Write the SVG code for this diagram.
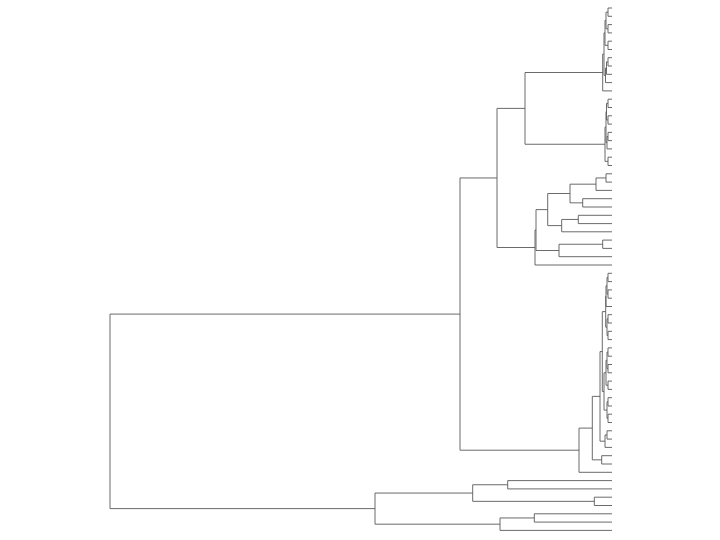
<svg xmlns="http://www.w3.org/2000/svg" width="720" height="540" viewBox="0 0 720 540">
<style>
.l{fill:none;stroke:#5a5a5a;stroke-width:0.9}
</style>
<rect width="720" height="540" fill="#fff"/>
<g id="connectors" class="l">
<g id="clusterA1">
<path d="M612 8 H608 V16.3 H612"/>
<path d="M612 24.6 H608 V32.9 H612"/>
<path d="M608 12.15 H606 V28.75 H608"/>
<path d="M612 41.2 H608 V49.5 H612"/>
<path d="M606 20.45 H605 V45.35 H608"/>
<path d="M612 57.7 H608 V66 H612"/>
<path d="M608 61.85 H606.5 V74.3 H612"/>
<path d="M606.5 68.08 H605.5 V82.6 H612"/>
<path d="M605 32.9 H604 V75.34 H605.5"/>
<path d="M604 54.12 H602.7 V90.9 H612"/>
</g>
<g id="clusterA2">
<path d="M612 99.2 H608 V107.5 H612"/>
<path d="M612 115.8 H608 V124.1 H612"/>
<path d="M608 103.35 H606.5 V119.95 H608"/>
<path d="M612 132.4 H608 V140.6 H612"/>
<path d="M608 136.5 H607 V148.9 H612"/>
<path d="M606.5 111.65 H606 V142.7 H607"/>
<path d="M612 157.2 H608 V165.5 H612"/>
<path d="M606 127.18 H605 V161.35 H608"/>
</g>
<path id="nodeA" d="M602.7 72.51 H525 V144.26 H605"/>
<g id="clusterB">
<path d="M612 173.8 H606 V182.1 H612"/>
<path d="M606 177.95 H596 V190.4 H612"/>
<path d="M612 198.7 H582.7 V207 H612"/>
<path d="M596 184.18 H570 V202.85 H582.7"/>
<path d="M612 215.3 H578.3 V223.6 H612"/>
<path d="M578.3 219.45 H561.7 V231.8 H612"/>
<path d="M570 193.5 H547.7 V225.6 H561.7"/>
<path d="M612 240.1 H602.7 V248.4 H612"/>
<path d="M602.7 244.25 H559 V256.7 H612"/>
<path d="M547.7 209.6 H536 V250.5 H559"/>
<path d="M536 230.05 H535 V265 H612"/>
</g>
<path id="nodeAB" d="M525 108.4 H497 V247.5 H535"/>
<g id="clusterC">
<path d="M612 273.3 H608 V281.6 H612"/>
<path d="M612 289.9 H608 V298.2 H612"/>
<path d="M608 277.45 H607 V294.05 H608"/>
<path d="M607 285.75 H606 V306.5 H612"/>
<path d="M612 314.7 H608 V323 H612"/>
<path d="M612 331.3 H608 V339.6 H612"/>
<path d="M608 318.85 H607 V335.45 H608"/>
<path d="M606 296.13 H605.7 V327.15 H607"/>
<path d="M612 347.9 H608 V356.2 H612"/>
<path d="M612 364.5 H608 V372.8 H612"/>
<path d="M608 352.05 H607 V368.65 H608"/>
<path d="M612 381.1 H608 V389.4 H612"/>
<path d="M607 360.35 H606 V385.25 H608"/>
<path d="M612 397.7 H608 V406 H612"/>
<path d="M612 414.2 H608 V422.5 H612"/>
<path d="M608 401.85 H607 V418.35 H608"/>
<path d="M606 372.8 H604 V410.1 H607"/>
<path d="M605.7 311.64 H602.3 V391.45 H604"/>
<path d="M612 430.8 H607 V439.1 H612"/>
<path d="M607 434.95 H605 V447.4 H612"/>
<path d="M602.3 351.55 H600 V441.18 H605"/>
<path d="M612 455.7 H601.7 V464 H612"/>
<path d="M600 396.36 H592.3 V459.85 H601.7"/>
<path d="M592.3 428.1 H579 V472.3 H612"/>
</g>
<path id="nodeABC" d="M497 177.95 H460 V450.2 H579"/>
<g id="clusterD">
<path d="M612 480.6 H507.7 V488.9 H612"/>
<path d="M612 497.2 H594.3 V505.5 H612"/>
<path d="M507.7 484.75 H472.7 V501.35 H594.3"/>
<path d="M612 513.8 H534.3 V522.1 H612"/>
<path d="M534.3 517.95 H500 V530.4 H612"/>
<path d="M472.7 493.05 H375 V524.18 H500"/>
</g>
<path id="root" d="M460 314.1 H110 V508.6 H375"/>
</g>
</svg>
